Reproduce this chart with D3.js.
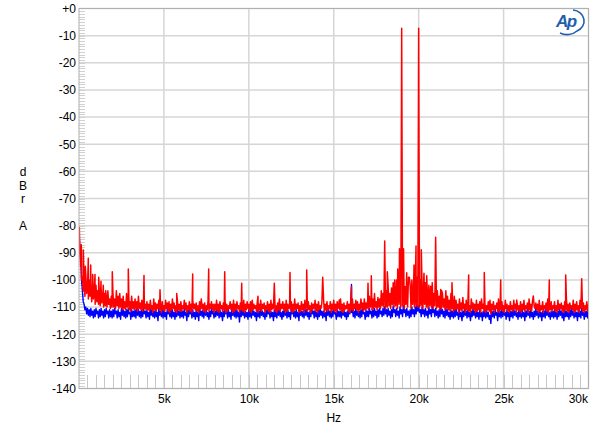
<!DOCTYPE html>
<html><head><meta charset="utf-8">
<script src="https://cdn.jsdelivr.net/npm/d3@7"></script>
<style>
body{margin:0;background:#fff}
svg{display:block}
text{font-family:"Liberation Sans",Arial,sans-serif;fill:#000}
</style>
</head><body>
<svg id="c" width="600" height="430"></svg>
<script>
// ---------- data ----------
// Noise floor read as a per-bin envelope: each 100 Hz bin has a top (High) and bottom (Low) level.
const freqStep = 100; // Hz; index i -> i*100 Hz

const redHigh = [
-83,-95,-99,-101,-98,-103,-100,-102,-101,-104,-102,-104,-105,-103,-106,-105,-106,-104,-107,-106,
-105,-107,-104,-106,-105,-107,-106,-108,-105,-107,-108,-106,-108,-107,-108,-106,-108.5,-107.5,-107,-109,
-108,-109,-107.5,-109.5,-107,-108.5,-109,-107.5,-109,-108,-109.5,-107.5,-108.5,-108,-109,-107,-108.5,-109.5,-108,-109,
-108,-109.5,-107.5,-108.5,-109.5,-108,-109,-107.5,-109,-108.5,-109.5,-108,-107,-109,-108.5,-109.5,-107.5,-109,-108,-109,
-109,-107.5,-109,-108,-109.5,-108.5,-107.5,-109,-109.5,-108,-109,-107.5,-109,-108,-109.5,-108.5,-109,-107.5,-109,-108,
-109,-108,-107.5,-109,-109.5,-108,-109,-107.5,-109,-108.5,-109.5,-108,-109,-107.5,-109,-108,-109.5,-108.5,-107,-109,
-108,-109,-107.5,-109,-109.5,-108,-109,-107,-109,-108.5,-109.5,-108,-109,-107.5,-109,-108,-109.5,-108.5,-109,-107.5,
-109,-108,-109.5,-108.5,-107,-109,-108,-109.5,-108,-109,-107.5,-109,-108,-109,-107,-109,-108.5,-109.5,-108,-109,
-108,-107,-109,-107.5,-108,-109,-107,-108.5,-107,-108.5,-107.5,-106,-108,-107,-105,-108,-106.5,-107,-104,-105,
-106,-104,-102,-105,-103,-101,-103.5,-100,-102,-101,-103,-100,-102.5,-101,-99,-102,-100,-103,-101,-99,
-101,-100,-102,-99.5,-101,-103,-102,-104,-101,-105,-103,-104,-106,-103.5,-105,-107,-104,-106,-107.5,-105,
-108,-106,-107.5,-109,-107,-108.5,-106.5,-109,-107.5,-108,-109.5,-107,-108.5,-109,-107.5,-109,-108,-107,-109,-108.5,
-109.5,-108,-107.5,-109,-108,-109.5,-108.5,-107,-109,-108,-109.5,-107.5,-109,-109.5,-108,-109.5,-107.5,-109,-108.5,-109.5,
-108,-109,-107.5,-109.5,-108.5,-107,-109,-108,-109.5,-108.5,-109,-107.5,-109.5,-108,-109.5,-108.5,-107,-109,-108,-109.5,
-108,-109.5,-107.5,-109,-108.5,-109.5,-108,-107,-109,-108.5,-109.5,-107.5,-109,-108,-109.5,-107.5,-109,-108.5,-109.5,-108,
-109
];
const redLow = [
-90,-100,-104,-106,-105,-107,-106,-108,-107,-109,-108,-109,-109.5,-108.5,-110,-109.5,-110,-109,-110.5,-110,
-110,-110.5,-109.5,-110.5,-110,-111,-110.5,-111,-110,-111,-111.5,-110.5,-111,-110.5,-111.5,-110.5,-111,-111.5,-110.5,-111,
-111,-111.5,-110.5,-112,-111,-111.5,-110.5,-111,-112,-111,-111.5,-110.5,-111.5,-112,-111,-110.5,-111.5,-112,-111,-111.5,
-111.5,-110.5,-111,-112,-111,-111.5,-112,-110.5,-111,-111.5,-112,-111,-110.5,-111.5,-112,-111,-111.5,-110.5,-111,-112,
-111,-111.5,-112,-110.5,-111.5,-111,-112,-111.5,-110.5,-111,-112,-111.5,-111,-110.5,-112,-111,-111.5,-112,-111,-110.5,
-111.5,-112,-111,-110.5,-111.5,-112,-111,-111.5,-110.5,-112,-111,-111.5,-112,-111,-110.5,-111.5,-112,-111,-111.5,-110.5,
-111,-112,-111.5,-110.5,-111,-112,-111.5,-111,-110.5,-112,-111.5,-111,-112,-110.5,-111.5,-111,-112,-111,-110.5,-111.5,
-112,-111,-110.5,-111.5,-112,-111,-111.5,-110.5,-112,-111,-111.5,-112,-110.5,-111,-111.5,-112,-111,-110.5,-111.5,-112,
-111,-111.5,-110.5,-111,-112,-111,-110.5,-111.5,-111,-110.5,-111,-110,-111,-110.5,-110,-111,-110,-110.5,-109.5,-110,
-110.5,-110,-109.5,-110.5,-109,-110,-109.5,-110.5,-109,-110,-109.5,-110.5,-109,-110,-109.5,-110.5,-109,-110,-109.5,-110,
-110,-109.5,-110.5,-109,-110,-110.5,-109.5,-110,-110.5,-109.5,-110.5,-110,-111,-110.5,-110,-111,-110.5,-111,-111.5,-110.5,
-111.5,-111,-110.5,-112,-111,-111.5,-110.5,-112,-111,-111.5,-112,-110.5,-111,-112,-111.5,-111,-112,-110.5,-111.5,-112,
-111,-111.5,-112.5,-111,-112,-110.5,-111.5,-112,-111,-111.5,-112,-110.5,-111.5,-112,-111,-111.5,-110.5,-112,-111,-111.5,
-112,-111,-111.5,-110.5,-112,-111,-111.5,-112,-110.5,-111,-112,-111.5,-111,-112,-110.5,-111.5,-112,-111,-111.5,-110.5,
-111.5,-112,-111,-110.5,-111.5,-112,-111,-111.5,-112,-110.5,-111,-112,-111.5,-111,-112,-110.5,-111.5,-112,-111,-111.5,
-111.5
];

const blueHigh = [
-86,-92,-104,-109,-110,-110.5,-111,-110.5,-111.5,-111,-110.5,-111.5,-111,-110.5,-111.5,-111,-110.5,-111.5,-111,-111.5,
-111,-110.5,-111.5,-111,-112,-110.5,-111,-111.5,-111,-110.5,-112,-111,-111.5,-111,-110.5,-111,-111.5,-111,-110.5,-111.5,
-111,-112,-110.5,-111,-111.5,-111,-112,-110.5,-111.5,-111,-111,-112,-110.5,-111.5,-111,-111,-112,-111,-110.5,-111.5,
-111,-111.5,-110.5,-112,-111,-110.5,-111.5,-111,-112,-111,-112,-110.5,-111.5,-111,-110.5,-111,-112,-111.5,-110.5,-111.5,
-111.5,-110.5,-111.5,-111,-112,-111.5,-110.5,-111.5,-111,-112,-110.5,-111.5,-111,-111,-112,-111,-110.5,-111.5,-111.5,-112,
-111,-111.5,-110.5,-111.5,-112,-111,-111.5,-110.5,-111.5,-112,-111,-110.5,-111.5,-111.5,-112,-111,-111.5,-110.5,-111,-112,
-111.5,-110.5,-111.5,-111,-112,-110.5,-111.5,-111.5,-111,-112,-110.5,-111.5,-111.5,-110.5,-111,-112,-111.5,-110.5,-111.5,-111,
-112,-111,-110.5,-111.5,-111.5,-112,-110.5,-111,-111.5,-111.5,-110.5,-112,-111,-111.5,-111.5,-110.5,-111,-112,-111.5,-110.5,
-108,-111,-111.5,-110.5,-111.5,-111.5,-111,-110.5,-112,-111,-111.5,-110.5,-111.5,-111,-110.5,-111.5,-111,-110.5,-111.5,-110.5,
-110,-111,-110.5,-111.5,-111,-109.5,-111,-110.5,-111.5,-110,-111,-109.5,-111,-110.5,-111.5,-111,-110,-111,-110,-109,
-109.5,-111,-110,-111,-110.5,-111.5,-110,-111,-109.5,-111,-110.5,-111.5,-111,-110,-111,-111.5,-110.5,-111,-112,-111,
-111.5,-111,-110.5,-112,-111,-112,-111.5,-110.5,-111.5,-111,-112,-111.5,-110.5,-111.5,-111,-112,-111,-112,-111.5,-111.5,
-111,-112,-113,-111.5,-111.5,-110.5,-112,-111.5,-111.5,-111,-110.5,-112,-111,-112,-111.5,-111.5,-110.5,-111.5,-112,-111,
-111.5,-111,-112,-111.5,-110.5,-111.5,-111,-112,-111.5,-110.5,-111.5,-111,-112,-111.5,-111.5,-110.5,-111,-112,-111.5,-111.5,
-111,-112,-111.5,-110.5,-111.5,-112,-111,-111.5,-112,-111,-110.5,-111.5,-111.5,-112,-111,-111.5,-110.5,-112,-111.5,-111.5,
-111.5
];
const blueLow = [
-88,-100,-108,-111,-112.5,-113,-113.5,-113,-114,-113.5,-112.5,-114,-113.5,-113,-114,-113.5,-112.5,-114,-113.5,-114,
-113.5,-112.5,-114,-113.5,-114.5,-113,-113.5,-114,-113.5,-112.5,-114.5,-113.5,-113.5,-114,-113,-113.5,-114,-113.5,-112.5,-114,
-113.5,-114.5,-113,-113.5,-114,-113.5,-115,-113,-113.5,-114,-113.5,-114.5,-112.5,-113.5,-114,-113.5,-114.5,-113.5,-113,-114,
-113.5,-114,-113,-115,-113.5,-112.5,-114,-113.5,-114.5,-113.5,-115,-113,-113.5,-114,-113,-113.5,-114.5,-113.5,-112.5,-114,
-113.5,-113,-114,-113.5,-115,-113.5,-112.5,-114,-113.5,-114.5,-113,-113.5,-114,-113.5,-115.5,-113.5,-113,-114,-113.5,-114.5,
-113.5,-114,-113,-113.5,-115,-113.5,-114,-113,-113.5,-114.5,-113.5,-112.5,-114,-113.5,-115,-113.5,-114,-113,-113.5,-114.5,
-113.5,-113,-114,-113.5,-114.5,-112.5,-113.5,-114,-113.5,-115,-113,-113.5,-114,-113,-113.5,-114.5,-113.5,-112.5,-114,-113.5,
-114.5,-113.5,-113,-114,-113.5,-115,-113,-113.5,-114,-113.5,-112.5,-114.5,-113.5,-113.5,-114,-113,-113.5,-114.5,-113.5,-112.5,
-112,-113.5,-114,-113,-113.5,-114,-113.5,-112.5,-114.5,-113.5,-113.5,-112.5,-114,-113.5,-113,-114,-113.5,-112.5,-113.5,-113,
-112.5,-113.5,-113,-114,-113.5,-112,-113.5,-113,-114,-112.5,-113.5,-112,-113.5,-113,-114,-113.5,-112.5,-113.5,-112.5,-111.5,
-112,-113.5,-112.5,-113.5,-113,-114,-112.5,-113.5,-112,-113.5,-113,-114,-113.5,-112.5,-113.5,-114,-113,-113.5,-114.5,-113.5,
-114,-113.5,-113,-114.5,-113.5,-115,-113.5,-113,-114,-113.5,-115,-113.5,-113,-114,-113.5,-114.5,-113.5,-115,-113.5,-114,
-113.5,-114.5,-116,-113.5,-114,-113,-115,-113.5,-114,-113.5,-113,-114.5,-113.5,-115,-113.5,-114,-113,-113.5,-114.5,-113.5,
-114,-113.5,-115,-113.5,-113,-114,-113.5,-114.5,-113.5,-113,-114,-113.5,-115,-113.5,-114,-113,-113.5,-114.5,-113.5,-114,
-113.5,-114.5,-113.5,-113,-114,-115,-113.5,-113.5,-114.5,-113.5,-113,-114,-113.5,-115,-113.5,-114,-113,-114.5,-113.5,-114,
-113.5
];

// discrete spectral lines: [frequency Hz, level dBr]
const redSpikes = [
[20,-80.7],[135,-87],[253,-89],[371,-95],[548,-92],[690,-94.5],[807,-98],[942,-98],
[1160,-99],[1295,-100.5],[1430,-102],[1572,-104],[1690,-105],[1960,-97],[2903,-96],
[3827,-98.4],[4770,-103.6],[5753,-105],[6695,-97.8],[7637,-96],[8580,-97],[9580,-101.2],
[10540,-106],[11500,-101.2],[12424,-97.3],[13407,-96.3],[14350,-99],[15320,-107.4],
[16045,-102.5],[17017,-101.2],[17212,-98.5],[18000,-85.7],[18153,-97],[18507,-103],
[18590,-100],[18766,-96],[18870,-88.5],[19000,-7.3],[19110,-88.5],[19296,-97.4],
[19450,-99],[19726,-94.5],[19844,-87.5],[20000,-7.3],[20155,-88.9],[20314,-97.5],
[20473,-98.5],[20708,-102.3],[21000,-84.3],[21355,-104],[21962,-101],[22945,-98.2],
[23864,-97.3],[24830,-100],[25772,-107.4],[26750,-105.9],[27692,-100],[28658,-98.2],
[29600,-99.6]
];
const blueSpikes = [[20,-85],[16045,-101.7]];

const yTicks = [0,-10,-20,-30,-40,-50,-60,-70,-80,-90,-100,-110,-120,-130,-140];
const yTickLabels = ["+0","-10","-20","-30","-40","-50","-60","-70","-80","-90","-100","-110","-120","-130","-140"];
const xTicks = [5000,10000,15000,20000,25000,30000];
const xTickLabels = ["5k","10k","15k","20k","25k","30k"];
const yLabelLetters = ["d","B","r","","A"];
const xLabel = "Hz";

// ---------- layout ----------
const L = 79, R = 588.5, T = 8.5, B = 388.5;
const x = d3.scaleLinear().domain([0, 30000]).range([L, R]);
const y = d3.scaleLinear().domain([-140, 0]).range([B, T]);
const svg = d3.select("#c");

svg.append("defs").append("clipPath").attr("id","plot")
  .append("rect").attr("x",L).attr("y",T).attr("width",R-L).attr("height",B-T);

// grid
const grid = svg.append("g");
grid.selectAll(".hg").data(yTicks).join("line")
  .attr("x1",L).attr("x2",R).attr("y1",d=>y(d)).attr("y2",d=>y(d))
  .attr("stroke","#d6d6d6").attr("stroke-width",1.5);
grid.selectAll(".vg").data(xTicks).join("line")
  .attr("x1",d=>x(d)).attr("x2",d=>x(d)).attr("y1",T).attr("y2",B)
  .attr("stroke","#d6d6d6").attr("stroke-width",1.5);

// minor ticks
grid.selectAll(".my").data(d3.range(-139, 0, 1)).join("line")
  .attr("x1",L).attr("x2",L+6).attr("y1",d=>Math.round(y(d))+0.5).attr("y2",d=>Math.round(y(d))+0.5)
  .attr("stroke","#d0d0d0").attr("stroke-width",1);
grid.selectAll(".mx").data(d3.range(500, 30000, 500)).join("line")
  .attr("x1",d=>Math.round(x(d))+0.5).attr("x2",d=>Math.round(x(d))+0.5).attr("y1",375).attr("y2",B)
  .attr("stroke","#c8c8c8").attr("stroke-width",1);

// series: each bin contributes its top then its bottom, plus discrete lines
function build(high, low, spikes){
  const m = new Map();
  high.forEach((v,i)=>{ m.set(i*freqStep, v); if (i < high.length-1) m.set(i*freqStep + freqStep/2, low[i]); });
  spikes.forEach(([f,v])=>m.set(f,v));
  return Array.from(m, ([f,v])=>({f,v})).sort((a,b)=>a.f-b.f);
}
const line = d3.line().x(d=>x(d.f)).y(d=>y(d.v));
const plot = svg.append("g").attr("clip-path","url(#plot)");
plot.append("path").datum(build(blueHigh, blueLow, blueSpikes)).attr("d",line)
  .attr("fill","none").attr("stroke","#0000ff").attr("stroke-width",1.4).attr("stroke-linejoin","round");
plot.append("path").datum(build(redHigh, redLow, redSpikes)).attr("d",line)
  .attr("fill","none").attr("stroke","#ff0000").attr("stroke-width",1.5).attr("stroke-linejoin","round");

// frame
svg.append("rect").attr("x",L).attr("y",T).attr("width",R-L).attr("height",B-T)
  .attr("fill","none").attr("stroke","#b0b0b0").attr("stroke-width",1);

// axes
const ya = svg.append("g").attr("transform",`translate(${L},0)`)
  .call(d3.axisLeft(y).tickValues(yTicks).tickFormat((d,i)=>yTickLabels[i]).tickSize(0).tickPadding(3));
const xa = svg.append("g").attr("transform",`translate(0,${B})`)
  .call(d3.axisBottom(x).tickValues(xTicks).tickFormat((d,i)=>xTickLabels[i]).tickSize(0).tickPadding(6));
[ya, xa].forEach(a=>{
  a.select(".domain").remove();
  a.selectAll("text").attr("font-size",12).attr("font-family","Liberation Sans, Arial, sans-serif").attr("fill","#000");
});
xa.selectAll(".tick").filter(d=>d===30000).select("text").attr("text-anchor","end").attr("dx",-1);

// axis titles
svg.append("text").attr("x",(L+R)/2).attr("y",422).attr("text-anchor","middle")
  .attr("font-size",12).text(xLabel);
svg.selectAll(".yl").data(yLabelLetters).join("text")
  .attr("x",23).attr("y",(d,i)=>176+i*13.5).attr("text-anchor","middle")
  .attr("font-size",12).text(d=>d);

// AP logo
const logo = svg.append("g");
logo.append("text").attr("x",556).attr("y",27).attr("font-size",17).attr("font-style","italic")
  .attr("font-weight","bold").attr("letter-spacing",-1.5).style("fill","#1f5fae").text("Ap");
logo.append("path")
  .attr("d","M573,10 A12,11 0 0 1 577,31 A14,12 0 0 1 560,33")
  .attr("fill","none").attr("stroke","#1f5fae").attr("stroke-width",1.6);
</script>
</body></html>
